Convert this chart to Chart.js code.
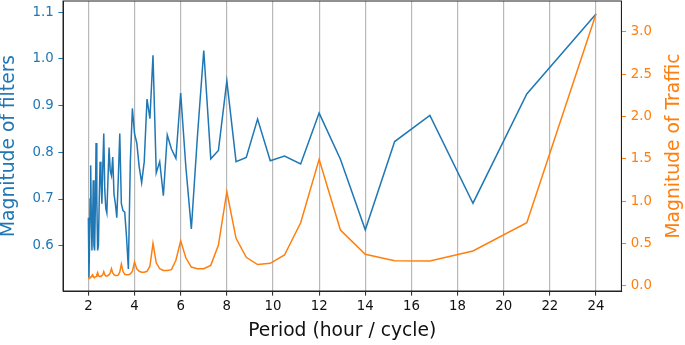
<!DOCTYPE html>
<html>
<head>
<meta charset="utf-8">
<script src="https://cdn.jsdelivr.net/npm/chart.js@4.4.1/dist/chart.umd.min.js"></script>
<style>
  html, body { margin: 0; padding: 0; background: #fff; }
  #wrap { width: 685px; height: 345px; }
</style>
</head>
<body>
<div id="wrap"><canvas id="chart" width="685" height="345"></canvas></div>
<script>
// periods in hours (one week of hourly data -> 168 / k)
const periods = [
  2.000, 2.024, 2.049, 2.074, 2.100, 2.127, 2.154, 2.182, 2.211, 2.240,
  2.270, 2.301, 2.333, 2.366, 2.400, 2.435, 2.471, 2.507, 2.545, 2.585,
  2.625, 2.667, 2.710, 2.754, 2.800, 2.847, 2.897, 2.947, 3.000, 3.055,
  3.111, 3.170, 3.231, 3.294, 3.360, 3.429, 3.500, 3.574, 3.652, 3.733,
  3.818, 3.907, 4.000, 4.098, 4.200, 4.308, 4.421, 4.541, 4.667, 4.800,
  4.941, 5.091, 5.250, 5.419, 5.600, 5.793, 6.000, 6.222, 6.462, 6.720,
  7.000, 7.304, 7.636, 8.000, 8.400, 8.842, 9.333, 9.882, 10.500, 11.200,
  12.000, 12.923, 14.000, 15.273, 16.800, 18.667, 21.000, 24.000
];

// magnitude of filters (left axis)
const filterMag = [
  0.660, 0.531, 0.600, 0.700, 0.772, 0.660, 0.590, 0.650, 0.740, 0.600,
  0.590, 0.680, 0.820, 0.700, 0.590, 0.600, 0.700, 0.780, 0.740, 0.690,
  0.770, 0.840, 0.720, 0.680, 0.670, 0.740, 0.810, 0.760, 0.750, 0.790,
  0.710, 0.690, 0.660, 0.740, 0.840, 0.690, 0.675, 0.672, 0.620, 0.550,
  0.780, 0.894, 0.840, 0.820, 0.770, 0.735, 0.780, 0.914, 0.872, 1.008,
  0.756, 0.780, 0.707, 0.837, 0.807, 0.787, 0.927, 0.770, 0.636, 0.830,
  1.018, 0.786, 0.804, 0.953, 0.780, 0.789, 0.871, 0.782, 0.792, 0.775,
  0.884, 0.785, 0.634, 0.823, 0.879, 0.691, 0.925, 1.096
];

// magnitude of traffic (right axis)
const trafficMag = [
  0.100, 0.093, 0.100, 0.095, 0.100, 0.110, 0.120, 0.130, 0.110, 0.100,
  0.100, 0.105, 0.110, 0.130, 0.155, 0.120, 0.110, 0.110, 0.115, 0.120,
  0.130, 0.165, 0.130, 0.115, 0.115, 0.120, 0.130, 0.150, 0.200, 0.150,
  0.130, 0.120, 0.120, 0.125, 0.160, 0.255, 0.170, 0.135, 0.130, 0.130,
  0.140, 0.170, 0.280, 0.200, 0.170, 0.160, 0.160, 0.170, 0.230, 0.500,
  0.270, 0.200, 0.180, 0.180, 0.190, 0.300, 0.530, 0.330, 0.220, 0.200,
  0.200, 0.240, 0.480, 1.110, 0.560, 0.335, 0.250, 0.264, 0.363, 0.744,
  1.493, 0.658, 0.371, 0.295, 0.292, 0.410, 0.744, 3.209
];

const xTicks = [2, 4, 6, 8, 10, 12, 14, 16, 18, 20, 22, 24];
const filterTicks = [0.6, 0.7, 0.8, 0.9, 1.0, 1.1];
const trafficTicks = [0.0, 0.5, 1.0, 1.5, 2.0, 2.5, 3.0];

const BLUE = '#1f77b4';
const ORANGE = '#ff7f0e';
const FONT = 'DejaVu Sans';
const rightTitle = 'Magnitude of Traffic';

// full frame like matplotlib spines + right axis title read bottom-to-top
const framePlugin = {
  id: 'frame',
  afterDraw(chart) {
    const { ctx, chartArea: a } = chart;
    ctx.save();
    ctx.strokeStyle = '#222';
    ctx.lineWidth = 1;
    ctx.strokeRect(a.left, a.top, a.right - a.left, a.bottom - a.top);

    ctx.translate(chart.width - 11, (a.top + a.bottom) / 2);
    ctx.rotate(-Math.PI / 2);
    ctx.fillStyle = ORANGE;
    ctx.font = '18.7px "' + FONT + '"';
    ctx.textAlign = 'center';
    ctx.textBaseline = 'middle';
    ctx.fillText(rightTitle, 0, 0);
    ctx.restore();
  }
};

const tickFont = { family: FONT, size: 13.3, lineHeight: 1 };
const titleFont = { family: FONT, size: 18.7, lineHeight: 1 };

function noPad(s) {
  s.paddingTop = 0;
  s.paddingBottom = 0;
}

new Chart(document.getElementById('chart'), {
  type: 'line',
  data: {
    datasets: [
      {
        label: 'Traffic',
        data: periods.map((p, i) => ({ x: p, y: trafficMag[i] })),
        borderColor: ORANGE,
        borderWidth: 1.5,
        pointRadius: 0,
        tension: 0,
        yAxisID: 'y1'
      },
      {
        label: 'Filters',
        data: periods.map((p, i) => ({ x: p, y: filterMag[i] })),
        borderColor: BLUE,
        borderWidth: 1.5,
        pointRadius: 0,
        tension: 0,
        yAxisID: 'y'
      }
    ]
  },
  options: {
    responsive: false,
    animation: false,
    layout: { padding: { top: 1, left: 0, right: 0, bottom: 0 } },
    plugins: { legend: { display: false }, tooltip: { enabled: false } },
    scales: {
      x: {
        type: 'linear',
        min: 0.9,
        max: 25.1,
        afterBuildTicks: s => { s.ticks = xTicks.map(v => ({ value: v })); },
        afterFit: s => { s.height = 54; s.paddingLeft = 0; s.paddingRight = 0; },
        grid: { color: '#b8b8b8', lineWidth: 1.2, tickLength: 4.67, tickColor: '#222', tickWidth: 1 },
        border: { display: true, color: '#222', width: 1 },
        ticks: { color: '#111', font: tickFont, padding: 4.67, maxRotation: 0, callback: v => String(v) },
        title: { display: true, text: 'Period (hour / cycle)', color: '#111', font: titleFont, padding: { top: 0, bottom: 4.6 } }
      },
      y: {
        position: 'left',
        min: 0.503,
        max: 1.124,
        afterBuildTicks: s => { s.ticks = filterTicks.map(v => ({ value: v })); },
        afterFit: s => { s.width = 63; noPad(s); },
        grid: { drawOnChartArea: false, tickLength: 4.67, tickColor: BLUE, tickWidth: 1 },
        border: { display: true, color: '#222', width: 1 },
        ticks: { color: BLUE, font: tickFont, padding: 4.67, callback: v => v.toFixed(1) },
        title: { display: true, text: 'Magnitude of filters', color: BLUE, font: titleFont, padding: { top: 0, bottom: 0 } }
      },
      y1: {
        position: 'right',
        min: -0.0626,
        max: 3.363,
        afterBuildTicks: s => { s.ticks = trafficTicks.map(v => ({ value: v })); },
        afterFit: s => { s.width = 63.6; noPad(s); },
        grid: { drawOnChartArea: false, tickLength: 4.67, tickColor: ORANGE, tickWidth: 1 },
        border: { display: true, color: '#222', width: 1 },
        ticks: { color: ORANGE, font: tickFont, padding: 4.67, callback: v => v.toFixed(1) }
      }
    }
  },
  plugins: [framePlugin]
});
</script>
</body>
</html>
